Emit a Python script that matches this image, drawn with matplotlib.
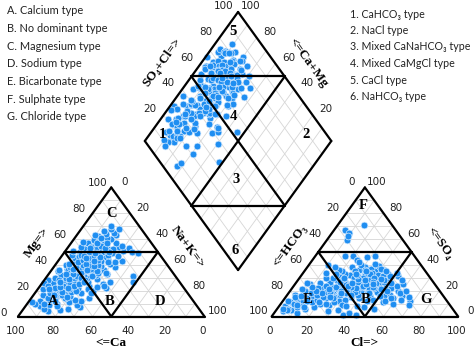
import numpy as np
import matplotlib.pyplot as plt

# Piper layout: triangle side = 1, gap between the two triangles = G
G = 0.36
H = np.sqrt(3) / 2

# cation percentages per sample (Ca = 100 - Mg - Na+K)
mg_pct = [5, 6, 8, 9, 10, 7, 12, 11, 13, 14, 4, 9, 15, 12, 6, 10, 13, 15, 8, 11, 14, 16,
          17, 18, 18, 19, 20, 20, 21, 22, 22, 23, 24, 24, 25, 25, 26, 26, 27, 27, 28, 28,
          29, 29, 30, 30, 19, 21, 23, 26, 28, 17, 20, 24, 22, 27, 30,
          31, 31, 32, 32, 33, 33, 34, 34, 35, 35, 36, 36, 37, 37, 38, 38, 39, 39, 40, 40,
          41, 41, 42, 42, 43, 43, 44, 44, 45, 45, 32, 34, 36, 38, 40, 42, 44, 33, 39, 37,
          46, 46, 47, 47, 48, 48, 49, 49, 50, 50, 51, 51, 52, 52, 53, 54, 54, 55, 56, 57,
          57, 58, 59, 60, 60, 53, 55, 58, 47, 51,
          61, 62, 63, 64, 65, 66, 68, 70, 68, 63,
          50, 49, 31, 27, 24, 18,
          18, 20, 22, 24, 26, 28, 30, 32, 34, 36, 38, 40, 42, 44, 46, 48, 50, 52, 54, 56,
          19, 21, 23, 25, 27, 29, 31, 33, 35, 37, 39, 41, 43, 45, 47, 49, 51, 53, 55, 57,
          16, 20, 24, 28, 32, 36, 40, 44, 48, 52, 14, 18, 22, 26, 30, 34, 38, 42, 46, 50,
          10, 12, 15, 17, 21, 25, 29, 33, 37, 41, 45, 49, 53, 57, 61, 35, 39, 43, 31, 27]
na_pct = [20, 24, 8, 12, 16, 30, 6, 22, 10, 18, 14, 27, 13, 28, 11, 4, 24, 8, 17, 2, 31, 20,
          5, 12, 25, 9, 17, 30, 3, 14, 21, 8, 26, 16, 11, 33, 6, 19, 24, 13, 2, 17,
          9, 28, 15, 22, 19, 27, 31, 1, 10, 15, 8, 4, 36, 36, 5,
          12, 20, 7, 26, 15, 31, 10, 22, 4, 18, 13, 28, 8, 21, 16, 33, 11, 25, 6, 19,
          14, 29, 9, 22, 17, 34, 12, 26, 8, 20, 18, 30, 4, 24, 12, 31, 16, 23, 17, 14,
          14, 24, 9, 30, 18, 5, 12, 26, 20, 8, 15, 31, 10, 22, 17, 7, 27, 13, 19, 9,
          24, 15, 11, 20, 14, 33, 28, 6, 20, 4,
          17, 12, 21, 15, 19, 13, 16, 15, 20, 10,
          36, 40, 46, 48, 34, 30,
          10, 13, 9, 12, 15, 8, 11, 14, 17, 9, 12, 15, 11, 13, 17, 10, 13, 16, 12, 18,
          14, 17, 11, 18, 9, 20, 16, 13, 22, 11, 19, 16, 23, 15, 12, 18, 22, 12, 17, 14,
          12, 21, 18, 22, 24, 19, 23, 21, 24, 25, 9, 8, 16, 20, 19, 26, 9, 27, 21, 24,
          9, 14, 19, 11, 6, 20, 13, 9, 11, 7, 14, 17, 20, 19, 14, 25, 21, 19, 24, 22]

# anion percentages per sample (HCO3 = 100 - SO4 - Cl)
so4_pct = [71, 67, 65, 59, 62,
           47, 47, 46, 47, 40, 44,
           4, 5, 8, 11, 9, 13, 6, 15, 12, 17, 19, 16, 21, 10, 14, 20, 7, 23, 18, 25,
           3, 22, 12, 26, 24, 9, 17, 27, 6, 14,
           12, 15, 18, 20, 22, 24, 26, 28, 30, 32, 34, 36, 38, 25, 27, 30, 33, 35, 21, 19,
           23, 29, 31, 37, 16, 14, 18, 26, 28, 31, 33, 35, 38, 40, 20, 24, 29, 32, 36, 17,
           22, 27, 30, 34, 39, 23, 27, 31, 26, 21,
           13, 17, 20, 24, 12, 16, 25, 19, 28, 22,
           16, 13, 12, 9, 14, 18, 11, 15,
           19, 22, 25, 28, 30, 24, 17, 32, 26, 29, 21, 33, 35, 11, 15, 13, 9, 27, 23, 20,
           30, 36, 38, 34,
           42, 41,
           1, 1, 3, 5, 7, 4, 8, 6,
           5, 7, 10, 12, 14, 16, 18, 20, 8, 11, 13, 15, 17, 19, 22, 24, 6, 9, 12, 15,
           18, 21, 10, 14, 16, 20, 23, 7, 11, 26,
           20, 22, 24, 26, 28, 30, 32, 34, 36, 21, 23, 25, 27, 29, 31, 33, 35, 19, 24, 28,
           32, 26, 30, 22, 18, 27, 33, 29, 25, 31, 37, 23, 20, 35, 28,
           15, 18, 21, 24, 27, 12, 16, 20, 30, 33, 10, 14, 8, 17, 26]
cl_pct = [14, 6, 9, 11, 10,
          16, 20, 28, 32, 10, 24,
          4, 8, 3, 5, 12, 7, 15, 10, 17, 4, 8, 14, 11, 21, 22, 18, 19, 15, 24, 8,
          12, 22, 3, 13, 20, 26, 28, 18, 6, 12,
          30, 35, 31, 38, 28, 33, 40, 30, 36, 26, 33, 29, 24, 45, 50, 44, 40, 38, 45, 42,
          50, 48, 31, 35, 45, 40, 50, 35, 42, 52, 46, 27, 31, 28, 33, 40, 37, 34, 42, 38,
          53, 26, 29, 50, 38, 37, 45, 39, 30, 25,
          48, 55, 58, 55, 45, 52, 58, 47, 56, 44,
          62, 63, 68, 69, 58, 60, 54, 66,
          20, 25, 23, 21, 18, 27, 24, 20, 26, 24, 30, 23, 20, 28, 26, 33, 33, 33, 23, 27,
          14, 18, 15, 12,
          26, 35,
          45, 38, 40, 33, 46, 28, 36, 52,
          6, 10, 7, 11, 6, 9, 12, 8, 13, 16, 18, 20, 16, 22, 14, 17, 3, 9, 13, 5,
          18, 6, 24, 26, 8, 14, 10, 14, 20, 6,
          36, 41, 37, 43, 39, 34, 41, 37, 32, 48, 43, 38, 47, 32, 44, 36, 33, 35, 30, 46,
          30, 51, 40, 34, 43, 41, 29, 44, 42, 48, 40, 31, 52, 44, 36,
          24, 28, 20, 29, 23, 55, 50, 62, 24, 18, 60, 57, 42, 34, 30]

left_legend = ['A. Calcium type', 'B. No dominant type', 'C. Magnesium type',
               'D. Sodium type', 'E. Bicarbonate type', 'F. Sulphate type',
               'G. Chloride type']
right_legend = ['1. CaHCO\u2083 type', '2. NaCl type', '3. Mixed CaNaHCO\u2083 type',
                '4. Mixed CaMgCl type', '5. CaCl type', '6. NaHCO\u2083 type']
ticks = [0, 20, 40, 60, 80, 100]

SERIF = ['Liberation Serif', 'DejaVu Serif']
SANS = ['Lato', 'DejaVu Sans']
PT_COLOR = '#1f8ef1'
GRID = '#d6d6d6'


def left_xy(mg, na):
    mg, na = np.asarray(mg, float), np.asarray(na, float)
    return na / 100 + mg / 200, mg / 100 * H


def right_xy(so4, cl):
    so4, cl = np.asarray(so4, float), np.asarray(cl, float)
    return 1 + G + cl / 100 + so4 / 200, so4 / 100 * H


def diamond_xy(cm, sc):
    cm, sc = np.asarray(cm, float), np.asarray(sc, float)
    return 1 + G / 2 + (sc - cm) / 200, G * H + (cm + sc) / 100 * H


def seg(ax, f, p, q, **kw):
    x1, y1 = f(*p)
    x2, y2 = f(*q)
    ax.plot([x1, x2], [y1, y2], solid_capstyle='round', **kw)


fig = plt.figure(figsize=(4.74, 3.48), dpi=100)
ax = fig.add_axes([0, 0, 1, 1])
ax.set_xlim(-18 / 186.5, (474 - 18) / 186.5)
ax.set_ylim((316.5 - 348) / 149, 316.5 / 149)
ax.axis('off')

grid_kw = dict(color=GRID, lw=0.6, zorder=1)
edge_kw = dict(color='black', lw=1.6, zorder=4)

# grids every 10 %
for v in range(10, 100, 10):
    for f in (left_xy, right_xy):
        seg(ax, f, (v, 0), (v, 100 - v), **grid_kw)
        seg(ax, f, (0, v), (100 - v, v), **grid_kw)
        seg(ax, f, (0, 100 - v), (100 - v, 0), **grid_kw)
    seg(ax, diamond_xy, (v, 0), (v, 100), **grid_kw)
    seg(ax, diamond_xy, (0, v), (100, v), **grid_kw)

# outlines and facies boundaries
for f in (left_xy, right_xy):
    for p, q in [((0, 0), (100, 0)), ((100, 0), (0, 100)), ((0, 100), (0, 0)),
                 ((50, 0), (50, 50)), ((50, 0), (0, 50)), ((0, 50), (50, 50))]:
        seg(ax, f, p, q, **edge_kw)
for p, q in [((0, 0), (100, 0)), ((100, 0), (100, 100)), ((100, 100), (0, 100)),
             ((0, 100), (0, 0)), ((50, 0), (50, 100)), ((0, 50), (100, 50)),
             ((100, 50), (50, 100)), ((50, 0), (0, 50))]:
    seg(ax, diamond_xy, p, q, **edge_kw)

# samples
mg = np.array(mg_pct, float)
na = np.array(na_pct, float)
so4 = np.array(so4_pct, float)
cl = np.array(cl_pct, float)
cat_sum = 100 - na          # Ca + Mg
an_sum = so4 + cl           # SO4 + Cl
pt_kw = dict(s=24, c=PT_COLOR, edgecolors='#d8ecff', linewidths=0.5, zorder=3)
ax.scatter(*left_xy(mg, na), **pt_kw)
ax.scatter(*right_xy(so4, cl), **pt_kw)
ax.scatter(*diamond_xy(cat_sum, an_sum), **pt_kw)

# tick labels
tk = dict(textcoords='offset pixels', ha='center', va='center',
          fontsize=7.5, color='#222222', family='DejaVu Sans')
for t in ticks:
    ax.annotate(str(t), left_xy(0, 100 - t), xytext=(-2, -15), **tk)
    ax.annotate(str(t), left_xy(t, 0), xytext=(-14, 4), **tk)
    ax.annotate(str(t), left_xy(100 - t, t), xytext=(13, 5), **tk)
    ax.annotate(str(t), right_xy(0, t), xytext=(-2, -15), **tk)
    ax.annotate(str(t), right_xy(100 - t, 0), xytext=(-13, 5), **tk)
    ax.annotate(str(t), right_xy(t, 100 - t), xytext=(12, 5), **tk)
    if t > 0:
        ax.annotate(str(t), diamond_xy(100, t), xytext=(-14, 6), **tk)
        ax.annotate(str(t), diamond_xy(t, 100), xytext=(13, 6), **tk)

# axis titles
tt = dict(textcoords='offset pixels', ha='center', va='center',
          fontsize=9.5, fontweight='bold', family=SERIF)
ax.annotate('<=Ca', left_xy(0, 50), xytext=(0, -27), **tt)
ax.annotate('Mg=>', left_xy(55, 0), xytext=(-32, 3), rotation=54, **tt)
ax.annotate('Na+K=>', left_xy(55, 45), xytext=(34, -1), rotation=-54, **tt)
ax.annotate('Cl=>', right_xy(0, 50), xytext=(0, -27), **tt)
ax.annotate('<=HCO\u2083', right_xy(55, 0), xytext=(-33, 0), rotation=54, **tt)
ax.annotate('<=SO\u2084', right_xy(55, 45), xytext=(33, 2), rotation=-54, **tt)
ax.annotate('SO\u2084+Cl=>', diamond_xy(100, 60), xytext=(-39, 1), rotation=54, **tt)
ax.annotate('<=Ca+Mg', diamond_xy(60, 100), xytext=(33, 1), rotation=-54, **tt)

# facies labels
fl = dict(ha='center', va='center', fontsize=10.5, fontweight='bold',
          family=SERIF, zorder=5)
for s, (a, b) in zip('ABDC', [(12, 13), (12, 43), (12, 70), (80, 10)]):
    ax.text(*left_xy(a, b), s, **fl)
for s, (a, b) in zip('EBGF', [(13, 13), (13, 44), (13, 76), (86, 6)]):
    ax.text(*right_xy(a, b), s, **fl)
for s, (a, b) in zip('541236', [(95, 90), (62, 57), (93, 12), (16, 89), (36, 34), (9, 6)]):
    ax.text(*diamond_xy(a, b), s, **fl)

# legends
for i, s in enumerate(left_legend):
    fig.text(7 / 474, 1 - (11 + 17.6 * i) / 348, s, ha='left', va='center',
             fontsize=7.9, family=SANS, color='#222222')
for i, s in enumerate(right_legend):
    fig.text(350 / 474, 1 - (14 + 16.5 * i) / 348, s, ha='left', va='center',
             fontsize=7.7, family=SANS, color='#222222')

fig.savefig('out.png', dpi=100)
